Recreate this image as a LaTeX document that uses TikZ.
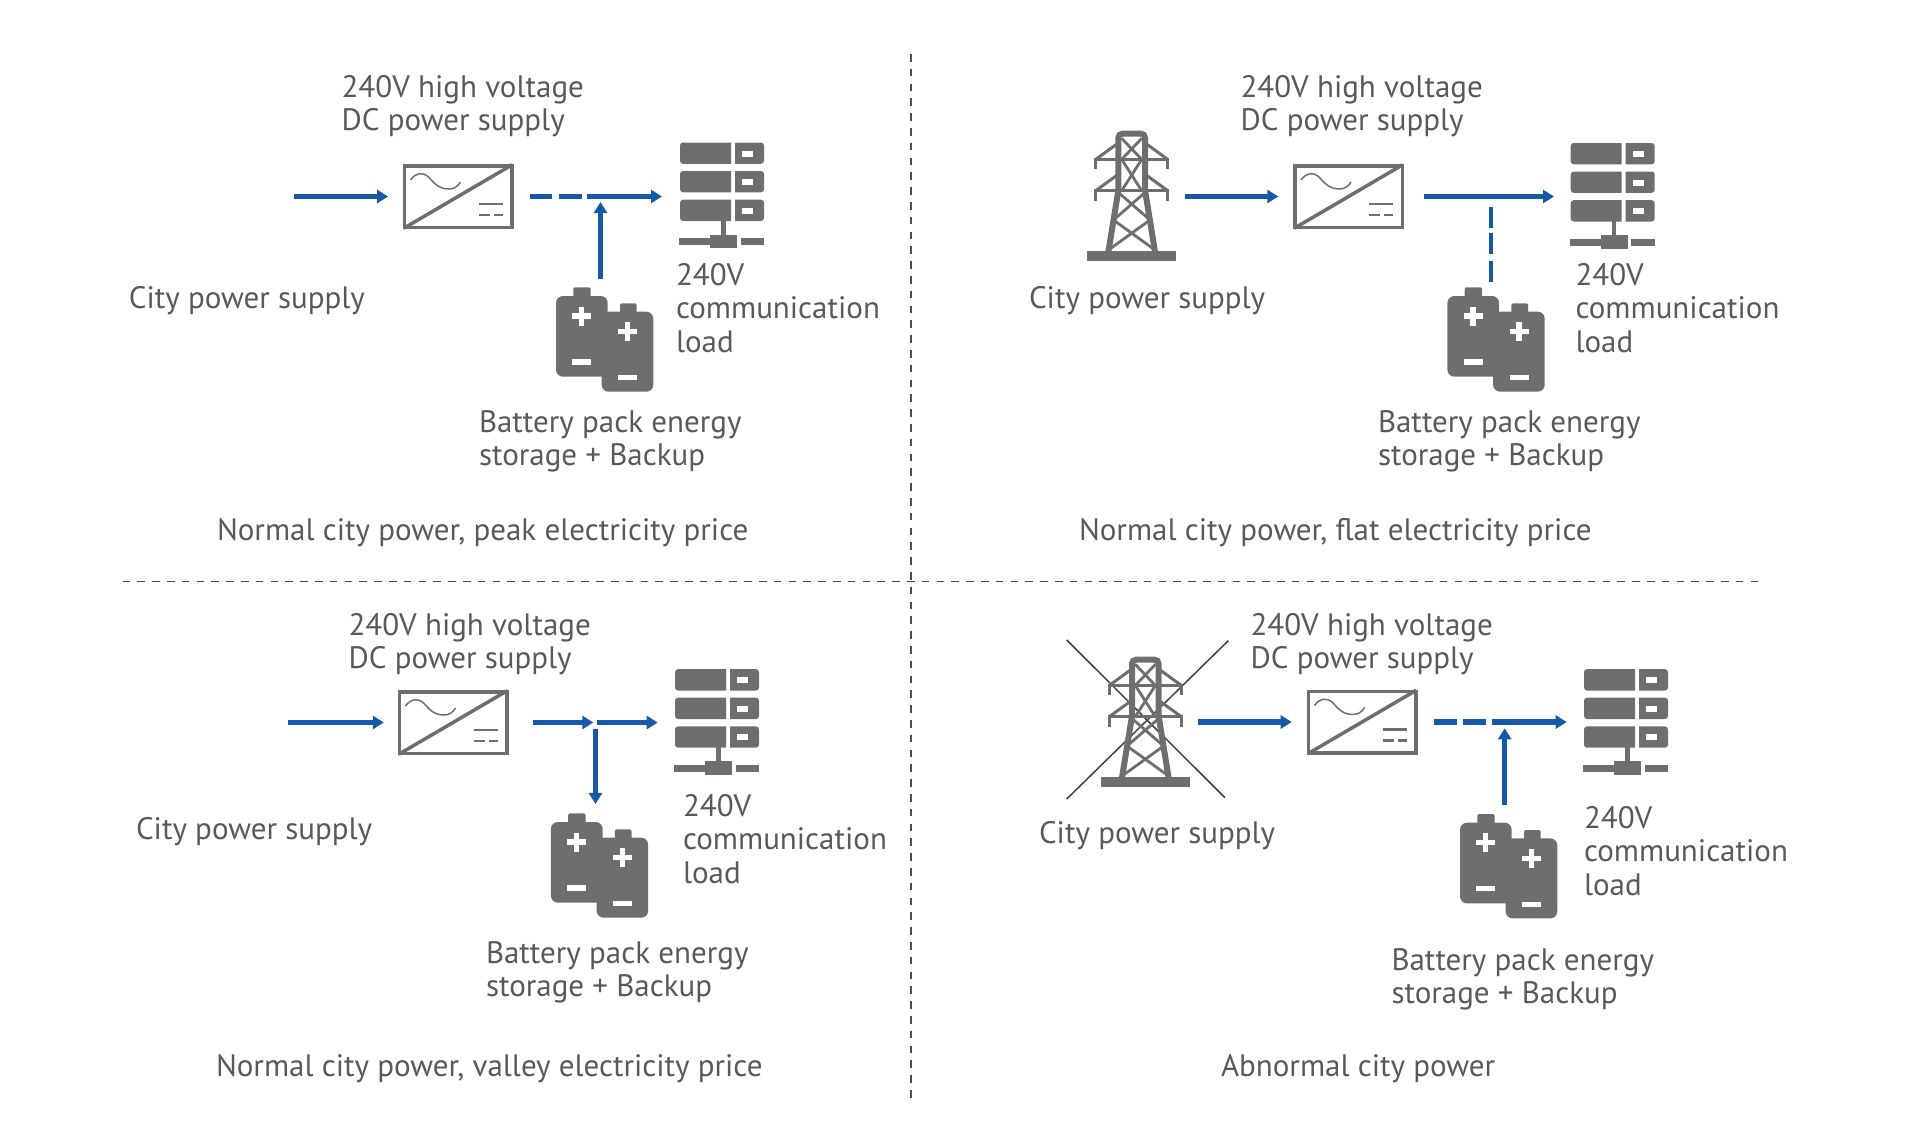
\documentclass[tikz,border=0pt]{standalone}
\usepackage{fontspec}
\setmainfont{PT Sans}
\usetikzlibrary{arrows.meta}
\definecolor{flowblue}{HTML}{1659A8}
\definecolor{icongrey}{HTML}{6D6E70}
\definecolor{textgrey}{HTML}{58595B}
\tikzstyle{flow}=[draw=flowblue, line width=5.3pt, -{Triangle[length=11pt, width=13pt]}]
\tikzstyle{txt}=[inner sep=0, outer sep=0, anchor=base west, align=left, text=textgrey, yshift=-0.6pt,
                 font=\fontsize{31}{33.6}\selectfont]
\tikzstyle{divider}=[draw=black!70, line width=1.6pt, dash pattern=on 7.5pt off 7.3pt]
\tikzstyle{cross}=[draw=black!75, line width=1.5pt]
\tikzstyle{icon}=[inner sep=0, outer sep=0]
\tikzstyle{convbox}=[icon, draw=icongrey, line width=3.5pt, outer sep=1.75pt, minimum width=107.5pt, minimum height=61.5pt]

% icons are named nodes, drawn around their centre
\newcommand{\converter}[3]{
    \node[convbox] (#1) at (#2, #3) {};
    \draw[icongrey, line width=3.5pt, shorten <=1.5pt, shorten >=1.5pt] (#1.south west) -- (#1.north east);
    \begin{scope}[shift={(#2, #3)}, icongrey]
        \draw[line width=1.5pt] (-47.5, -16.5) .. controls (-42, -24) and (-36, -24.5) .. (-30, -20)
            .. controls (-24, -14) and (-20, -7.5) .. (-9, -7.5) .. controls (-4, -7.5) and (0, -10) .. (2.5, -14.5);
        \draw[line width=2.7pt] (20.5, 7.5) -- (44.5, 7.5);
        \draw[line width=2.7pt] (20.5, 18.5) -- (31.5, 18.5);
        \draw[line width=2.7pt] (35.5, 18.5) -- (44.5, 18.5);
    \end{scope}
}
\newcommand{\serverrack}[3]{
    \node[icon, minimum width=85pt, minimum height=106pt] (#1) at (#2, #3) {};
    \begin{scope}[shift={(#2, #3)}]
        \foreach \ry in {-53, -24.5, 4.2} {
            \fill[icongrey] (9, \ry) [rounded corners=3pt] -- (-42, \ry) -- (-42, \ry+21.3) [sharp corners] -- (9, \ry+21.3) -- cycle;
            \fill[icongrey] (13, \ry) [rounded corners=3pt] -- (42, \ry) -- (42, \ry+21.3) [sharp corners] -- (13, \ry+21.3) -- cycle;
            \fill[white] (20, \ry+8) rectangle (31, \ry+14);
        }
        \fill[icongrey] (-1, 25) rectangle (3.7, 40);
        \fill[icongrey] (-12, 39.2) rectangle (15, 52.8);
        \fill[icongrey] (-43, 42.5) rectangle (-12, 49.5);
        \fill[icongrey] (18.7, 42.5) rectangle (42.3, 49.5);
    \end{scope}
}
\newcommand{\batterypack}[3]{
    \node[icon, minimum width=97.5pt, minimum height=104.5pt] (#1) at (#2, #3) {};
    \begin{scope}[shift={(#2, #3)}]
        \fill[icongrey, rounded corners=2pt] (-31.3, -52.2) rectangle (-13.9, -40);
        \fill[icongrey, rounded corners=2pt] (15.4, -36.2) rectangle (32.1, -24);
        \fill[icongrey, rounded corners=7pt] (-48.6, -43.5) rectangle (3.1, 37.2);
        \fill[icongrey, rounded corners=7pt] (-2.9, -27.8) rectangle (48.7, 52.2);
        \foreach \sx/\py/\my in {-23/-23.5/22.5, 23/-7.8/38.2} {
            \fill[white] (\sx-9.5, \py-2.7) rectangle (\sx+9.5, \py+2.7);
            \fill[white] (\sx-2.7, \py-9.5) rectangle (\sx+2.7, \py+9.5);
            \fill[white] (\sx-9.5, \my-2.7) rectangle (\sx+9.5, \my+2.7);
        }
    \end{scope}
}
\newcommand{\pylon}[3]{
    \node[icon, minimum width=89pt, minimum height=130pt] (#1) at (#2, #3) {};
    \begin{scope}[shift={(#2, #3)}, draw=icongrey]
        \fill[icongrey] (-44.3, 55) rectangle (44.3, 65);
        \draw[line width=6pt] (-23.3, 56) -- (-13.3, -5.7) [rounded corners=4pt] -- (-13.3, -62) -- (13.3, -62) [sharp corners] -- (13.3, -5.7) -- (23.3, 56);
        \foreach \ay in {-36.3, -5} {
            \draw[line width=3pt] (-36, \ay+10) -- (-36, \ay) -- (36, \ay) -- (36, \ay+10);
            \draw[line width=3pt] (-36, \ay) -- (-14, \ay-16);
            \draw[line width=3pt] (36, \ay) -- (14, \ay-16);
        }
        \foreach \sgn in {-1, 1} {
            \draw[line width=2.8pt] (\sgn*10, -57.3) -- (-\sgn*10, -36.3);
            \draw[line width=2.8pt] (\sgn*10, -36.3) -- (-\sgn*10, -5);
            \draw[line width=2.8pt] (\sgn*12.3, -2.3) -- (-\sgn*18.3, 24.3);
            \draw[line width=2.8pt] (\sgn*18.3, 24.3) -- (-\sgn*23.3, 54.3);
        }
    \end{scope}
}

\begin{document}
\begin{tikzpicture}[x=1pt, y=-1pt]
    \useasboundingbox (0, 0) rectangle (1920, 1143);
    \coordinate (VT) at (911, 54);
    \coordinate (VB) at (911, 1100);
    \coordinate (HL) at (122.6, 581.5);
    \coordinate (HR) at (1760.7, 581.5);
    \draw[divider] (VT) -- (VB);
    \draw[divider] (HL) -- (HR);

    % peak price
    \converter{C1}{458}{196.5}
    \serverrack{S1}{722}{195.5}
    \batterypack{B1}{604.6}{339.5}
    \coordinate (P1) at (293.5, 196.5);
    \coordinate (J1) at (600.5, 196.5);
    \draw[flow, shorten >=14.4pt] (P1) -- (C1.west);
    \draw[flow, shorten <=16.5pt, shorten >=17.5pt, dash pattern=on 22pt off 7pt on 23pt off 5pt on 300pt] (C1.east) -- (C1 -| S1.west);
    \draw[flow, shorten <=8pt, shorten >=5.5pt] (B1.north -| J1) -- (J1);
    \node[txt] (H1) at (341.6, 130) {240V high voltage\\DC power supply};
    \node[txt] (G1) at (128.8, 308) {City power supply};
    \node[txt] (L1) at (676, 351.7) {240V\\communication\\load};
    \node[txt] (K1) at (479, 465) {Battery pack energy\\storage + Backup};
    \node[txt] (N1) at (217, 540) {Normal city power, peak electricity price};

    % flat price
    \pylon{T2}{1131.7}{195.7}
    \converter{C2}{1348.5}{196.5}
    \serverrack{S2}{1612.7}{196}
    \batterypack{B2}{1496}{339.5}
    \coordinate (J2) at (1491, 196.5);
    \draw[flow, shorten <=8.3pt, shorten >=14.7pt] (T2.east |- C2) -- (C2.west);
    \draw[flow, shorten <=20pt, shorten >=16.2pt] (C2.east) -- (C2 -| S2.west);
    \draw[draw=flowblue, line width=3.5pt, dash pattern=on 21.3pt off 5.4pt on 20.6pt off 6.7pt on 22pt, shorten <=10pt, shorten >=5.6pt] (J2) -- (B2.north -| J2);
    \node[txt] (H2) at (1240.5, 130) {240V high voltage\\DC power supply};
    \node[txt] (G2) at (1029, 308) {City power supply};
    \node[txt] (L2) at (1575.5, 351.7) {240V\\communication\\load};
    \node[txt] (K2) at (1378, 465) {Battery pack energy\\storage + Backup};
    \node[txt] (N2) at (1079, 540) {Normal city power, flat electricity price};

    % valley price
    \converter{C3}{453}{722.5}
    \serverrack{S3}{717}{722.2}
    \batterypack{B3}{599.5}{865.5}
    \coordinate (P3) at (288, 722.5);
    \coordinate (J3) at (595.5, 722.5);
    \draw[flow, shorten >=13.7pt] (P3) -- (C3.west);
    \draw[flow, shorten <=24pt, shorten >=2.2pt] (C3.east) -- (J3);
    \draw[flow, shorten <=1.8pt, shorten >=16.8pt] (J3) -- (J3 -| S3.west);
    \draw[flow, shorten <=6.3pt, shorten >=9.3pt] (J3) -- (B3.north -| J3);
    \node[txt] (H3) at (348.5, 668) {240V high voltage\\DC power supply};
    \node[txt] (G3) at (136, 839) {City power supply};
    \node[txt] (L3) at (683, 882.6) {240V\\communication\\load};
    \node[txt] (K3) at (486, 996) {Battery pack energy\\storage + Backup};
    \node[txt] (N3) at (216, 1075.8) {Normal city power, valley electricity price};

    % abnormal
    \coordinate (X1) at (1066.7, 640);
    \coordinate (X2) at (1225, 797.7);
    \coordinate (X3) at (1228.3, 640.7);
    \coordinate (X4) at (1066.7, 799);
    \draw[cross] (X1) -- (X2);
    \draw[cross] (X3) -- (X4);
    \pylon{T4}{1145.3}{721.7}
    \converter{C4}{1362}{722}
    \serverrack{S4}{1626}{722.2}
    \batterypack{B4}{1508.6}{866.2}
    \coordinate (J4) at (1504.7, 722);
    \draw[flow, shorten <=8pt, shorten >=14.8pt] (T4.east |- C4) -- (C4.west);
    \draw[flow, shorten <=16.8pt, shorten >=16.8pt, dash pattern=on 23pt off 6pt on 22.7pt off 5.7pt on 300pt] (C4.east) -- (C4 -| S4.west);
    \draw[flow, shorten <=9pt, shorten >=6.3pt] (B4.north -| J4) -- (J4);
    \node[txt] (H4) at (1250.5, 668) {240V high voltage\\DC power supply};
    \node[txt] (G4) at (1039, 842.6) {City power supply};
    \node[txt] (L4) at (1584, 894.9) {240V\\communication\\load};
    \node[txt] (K4) at (1391.5, 1003) {Battery pack energy\\storage + Backup};
    \node[txt] (N4) at (1221, 1075.8) {Abnormal city power};
\end{tikzpicture}
\end{document}
